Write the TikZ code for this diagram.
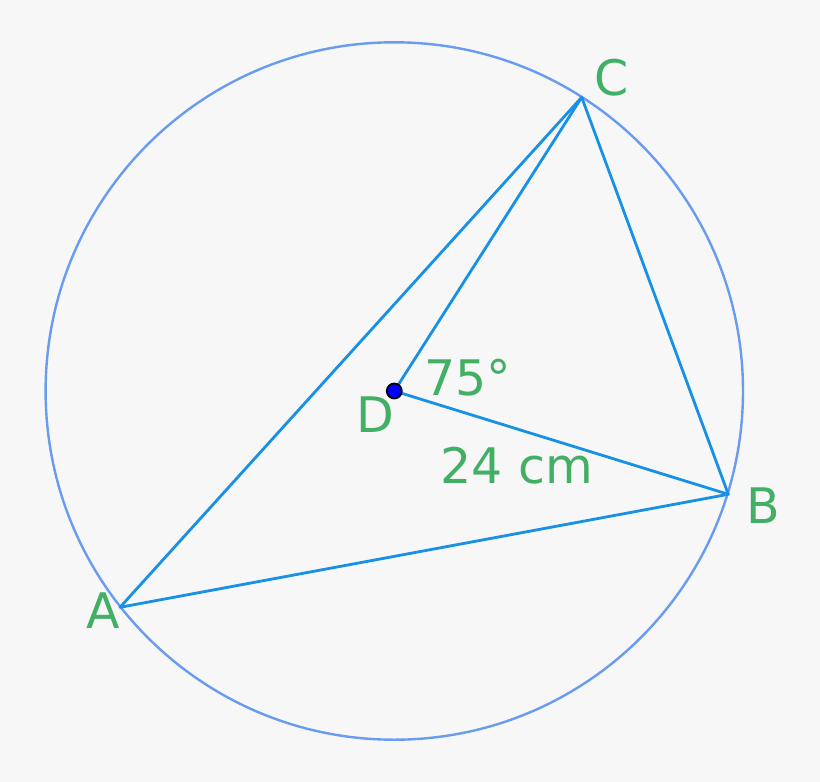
\documentclass[tikz,border=0pt]{standalone}
\usepackage{fontspec}
\setmainfont{DejaVu Sans}
\definecolor{bg}{RGB}{247,247,247}
\definecolor{lbl}{RGB}{66,176,100}
\definecolor{tri}{RGB}{24,144,230}
\definecolor{circ}{RGB}{105,155,240}
\begin{document}
\begin{tikzpicture}[x=1pt,y=-1pt,
  lab/.style={text=lbl,inner sep=0pt,anchor=base,font=\fontsize{49}{49}\selectfont},
  side/.style={draw=tri,line width=2.8pt,line join=round},
  ring/.style={draw=circ,line width=2.4pt},
  ptdot/.style={circle,fill=blue,draw=black,line width=1.8pt,inner sep=0pt,minimum size=15pt}]
\fill[bg] (0,0) rectangle (820,782);
\useasboundingbox (0,0) rectangle (820,782);
\coordinate (D) at (394.3,391);
\coordinate (A) at (120,607.3);
\coordinate (B) at (728.3,494.3);
\coordinate (C) at (581.7,97.3);
\draw[ring] (D) circle [radius=348.7pt];
\draw[side] (A) -- (B) -- (C) -- cycle;
\draw[side] (C) -- (D) -- (B);
\node[ptdot] (Ddot) at (D) {};
\node[lab] (lC) at (612,95) {C};
\node[lab] (lB) at (763,523) {B};
\node[lab] (lA) at (103.5,628) {A};
\node[lab] (lD) at (375,432) {D};
\node[lab] (ang) at (468,395) {75°};
\node[lab] (len) at (516.5,483) {24 cm};
\end{tikzpicture}
\end{document}
